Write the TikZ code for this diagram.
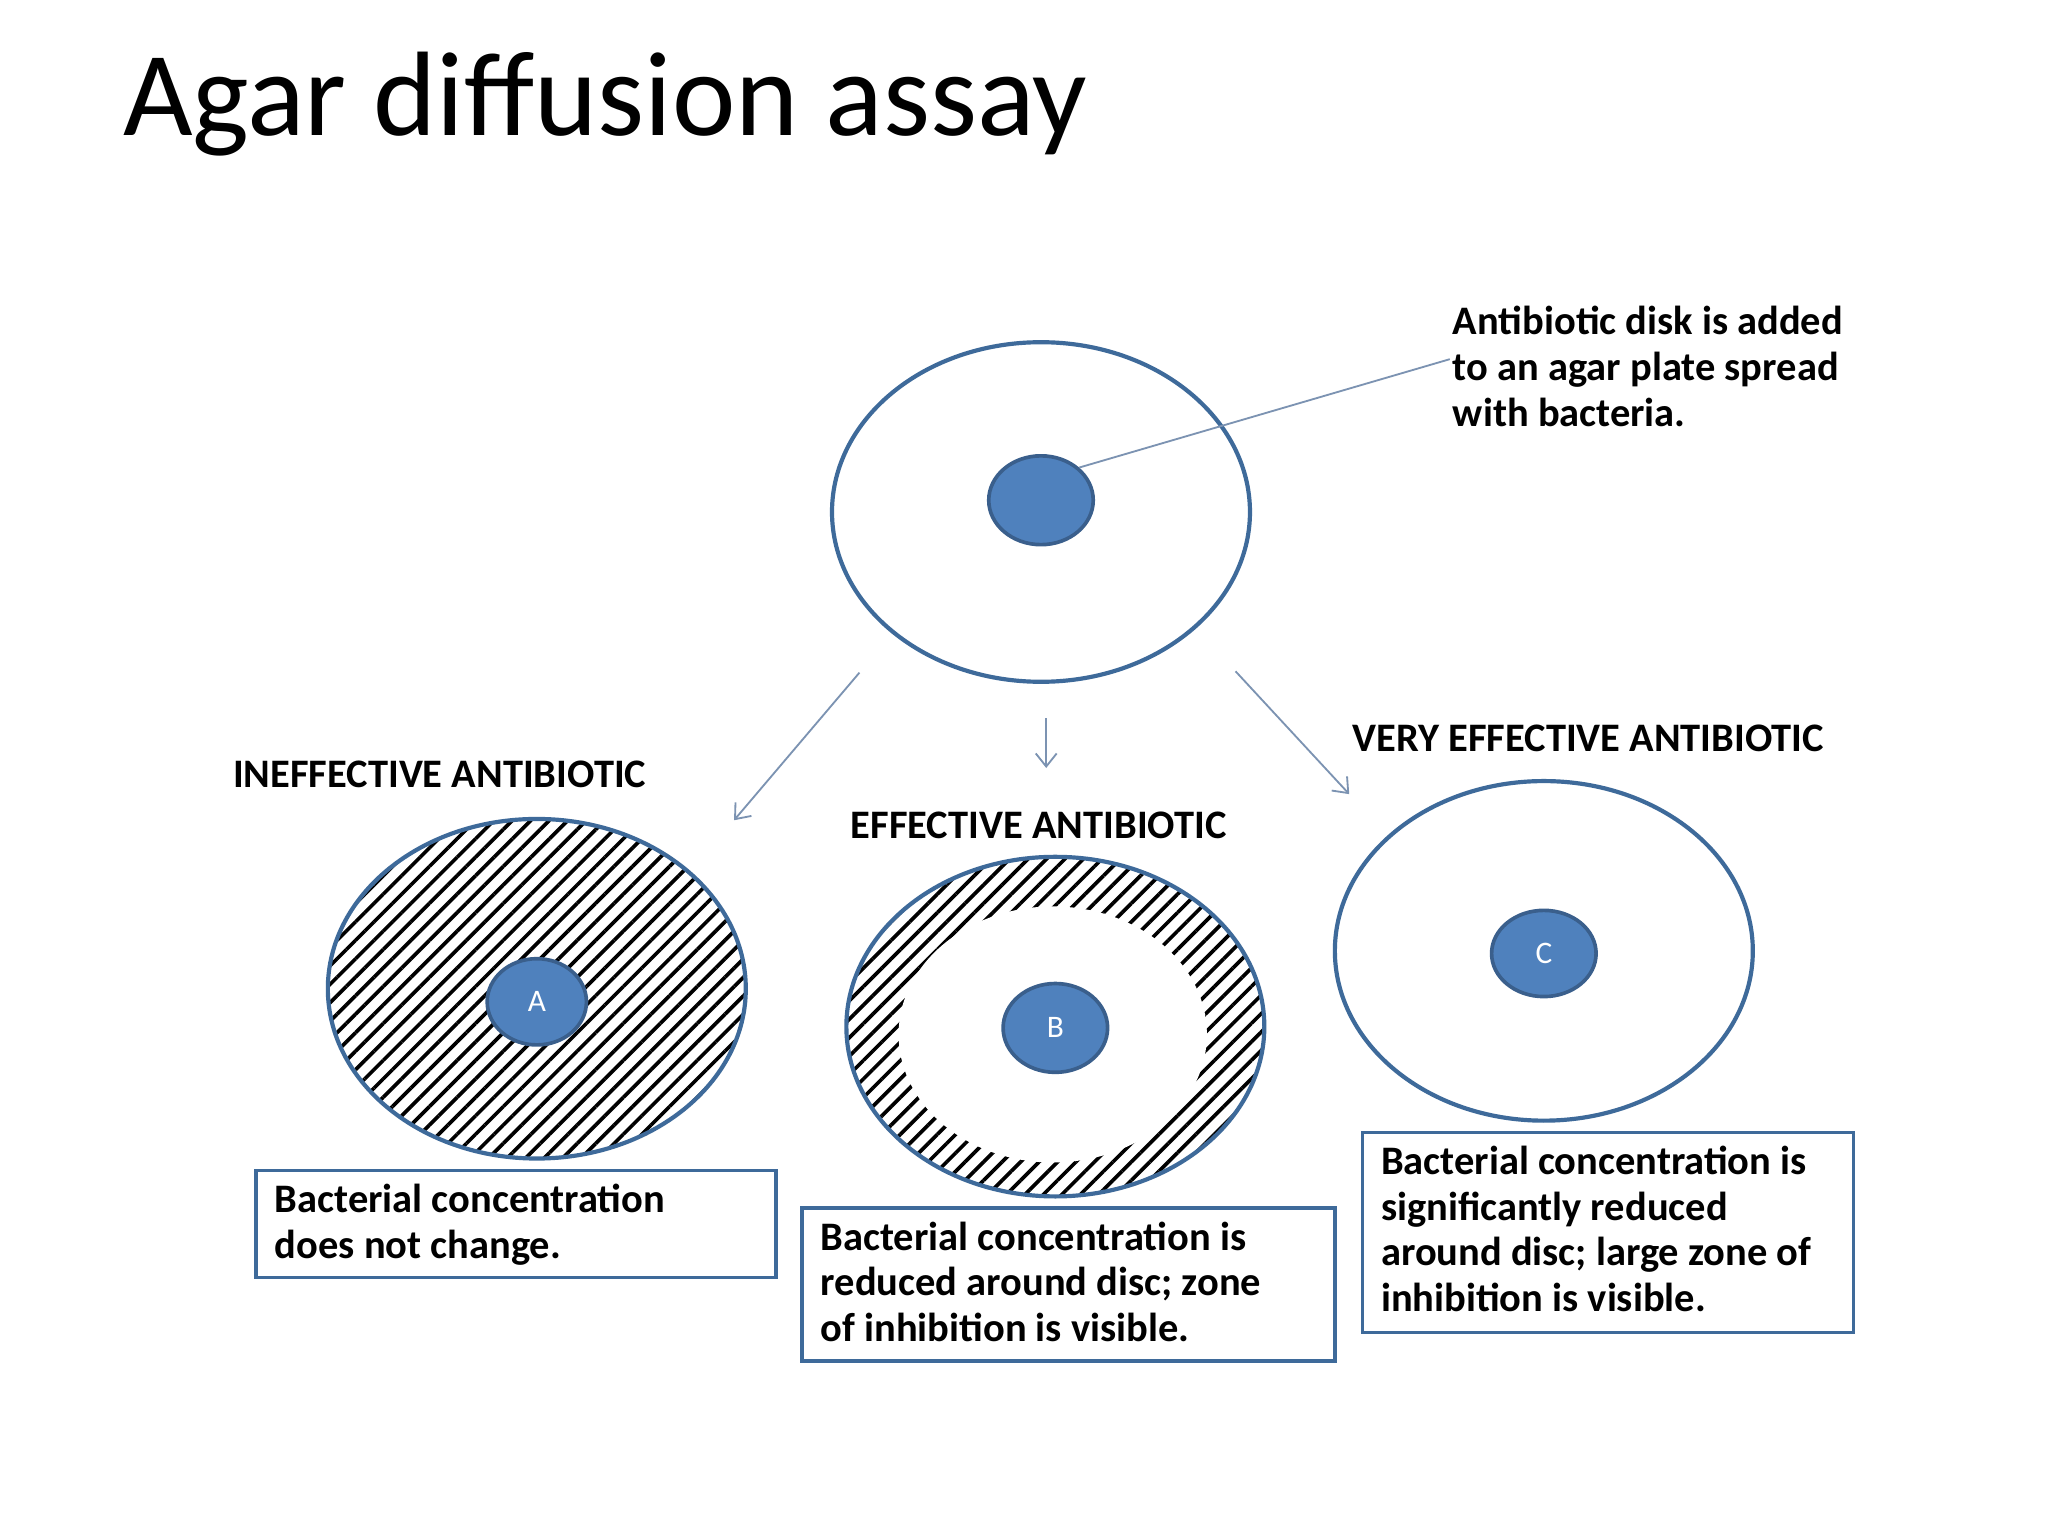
\documentclass[tikz,border=0pt]{standalone}
\usepackage{fontspec}
\setmainfont{Carlito}
\usetikzlibrary{patterns.meta,arrows.meta,shapes.geometric}
\definecolor{rim}{HTML}{3E6A9A}
\definecolor{diskf}{HTML}{4F81BD}
\definecolor{diskd}{HTML}{3A5F8C}
\definecolor{arr}{HTML}{7C93B2}
\tikzset{
 plate/.style={draw=rim,line width=1.6pt,fill=white},
 disk/.style={draw=diskd,line width=1.4pt,fill=diskf,ellipse,inner sep=0pt},
 hatch/.style={pattern={Lines[angle=45,distance=5pt,line width=1.4pt]}},
 lbl/.style={font=\bfseries\fontsize{15.5}{17.5}\selectfont,align=left,anchor=north west,inner sep=0pt},
 head/.style={font=\bfseries\fontsize{15.5}{17}\selectfont,anchor=base west,inner sep=0pt},
 box/.style={draw=rim,line width=1.3pt},
 flow/.style={draw=arr,line width=0.7pt,-{Straight Barb[length=5pt,width=8pt]}},
 letter/.style={text=white,font=\fontsize{12}{14}\selectfont}
}
\begin{document}
\begin{tikzpicture}[x=0.5pt,y=-0.5pt]
\useasboundingbox (0,0) rectangle (1568,1176);
\fill[white] (0,0) rectangle (1568,1176);
\node[anchor=base west,inner sep=0pt,font=\fontsize{46}{52}\selectfont] (title) at (94,104) {Agar diffusion assay};
% top plate
\draw[plate] (797,392) ellipse [x radius=160,y radius=130];
\node[disk,minimum width=40pt,minimum height=34pt] (d0) at (797,383) {};
\node[lbl] (t0) at (1112,234) {Antibiotic disk is added\\to an agar plate spread\\with bacteria.};
\coordinate (c0) at (1110,275);
\draw[arr,line width=0.7pt] (d0.north east) -- (c0);
% arrows
\coordinate (a1) at (658,515); \coordinate (a2) at (562,628);
\coordinate (b1) at (801,550); \coordinate (b2) at (801,588);
\coordinate (e1) at (946,514); \coordinate (e2) at (1033,608);
\draw[flow] (a1) -- (a2);
\draw[flow] (b1) -- (b2);
\draw[flow] (e1) -- (e2);
% headings
\node[head] (hA) at (178,603) {INEFFECTIVE ANTIBIOTIC};
\node[head] (hB) at (651,642) {EFFECTIVE ANTIBIOTIC};
\node[head] (hC) at (1035,575) {VERY EFFECTIVE ANTIBIOTIC};
% plate A
\fill[white] (411,757) ellipse [x radius=160,y radius=130];
\fill[hatch] (411,757) ellipse [x radius=160,y radius=130];
\draw[draw=rim,line width=1.6pt] (411,757) ellipse [x radius=160,y radius=130];
\node[disk,minimum width=38pt,minimum height=33pt,letter] (dA) at (411,767) {A};
% plate B
\fill[white] (808,786) ellipse [x radius=160,y radius=130];
\fill[hatch] (808,786) ellipse [x radius=160,y radius=130];
\fill[white] (806,792) ellipse [x radius=118,y radius=98];
\draw[draw=rim,line width=1.6pt] (808,786) ellipse [x radius=160,y radius=130];
\node[disk,minimum width=40pt,minimum height=34pt,letter] (dB) at (808,787) {B};
% plate C
\draw[plate] (1182,728) ellipse [x radius=160,y radius=130];
\node[disk,minimum width=40pt,minimum height=33pt,letter] (dC) at (1182,730) {C};
% boxes
\draw[box] (196,896) rectangle (594,978);
\node[lbl] (tA) at (210,906) {Bacterial concentration\\does not change.};
\draw[box] (614,925) rectangle (1022,1042);
\node[lbl] (tB) at (628,935) {Bacterial concentration is\\reduced around disc; zone\\of inhibition is visible.};
\draw[box] (1043,867) rectangle (1419,1020);
\node[lbl] (tC) at (1057,877) {Bacterial concentration is\\significantly reduced\\around disc; large zone of\\inhibition is visible.};
\end{tikzpicture}
\end{document}
